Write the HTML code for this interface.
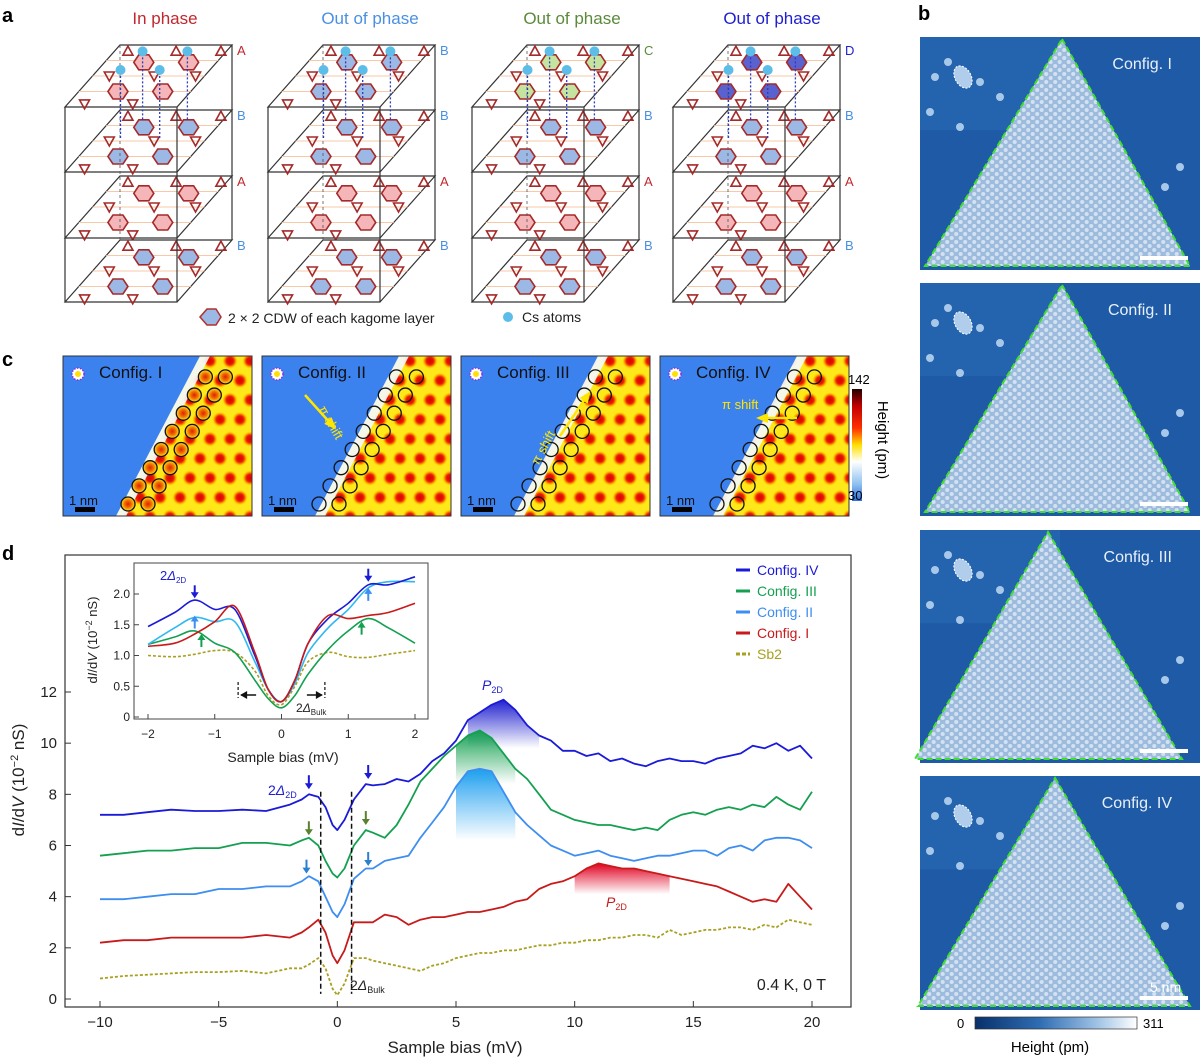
<!DOCTYPE html>
<html><head><meta charset="utf-8">
<style>
html,body{margin:0;padding:0;background:#fff;}
svg{display:block;font-family:"Liberation Sans",Arial,sans-serif;}
</style></head>
<body>
<svg id="fig" width="1200" height="1057" viewBox="0 0 1200 1057" xmlns="http://www.w3.org/2000/svg">
<defs>
  <radialGradient id="rdot"><stop offset="0" stop-color="#e00000"/><stop offset="0.45" stop-color="#e81a00"/><stop offset="0.75" stop-color="#ffb000"/><stop offset="1" stop-color="#ffe600" stop-opacity="0"/></radialGradient>
  <radialGradient id="rdot2"><stop offset="0" stop-color="#e02000"/><stop offset="0.5" stop-color="#f07000"/><stop offset="1" stop-color="#ffe020"/></radialGradient>
  <pattern id="cdw" width="20" height="39" patternUnits="userSpaceOnUse">
    <rect width="20" height="39" fill="#ffe81a"/>
    <circle cx="10" cy="10" r="8" fill="url(#rdot)"/>
    <circle cx="0" cy="29.5" r="8" fill="url(#rdot)"/>
    <circle cx="20" cy="29.5" r="8" fill="url(#rdot)"/>
  </pattern>
  <pattern id="stm" width="9" height="8" patternUnits="userSpaceOnUse">
    <rect width="9" height="8" fill="#9dbbdd"/>
    <circle cx="2.2" cy="2" r="2" fill="#d3e2f2"/>
    <circle cx="6.7" cy="6" r="2" fill="#d3e2f2"/>
  </pattern>
  <linearGradient id="bcb" x1="0" x2="1"><stop offset="0" stop-color="#08306b"/><stop offset="0.4" stop-color="#2f6db3"/><stop offset="0.75" stop-color="#9ec2e4"/><stop offset="1" stop-color="#ffffff"/></linearGradient>
  <linearGradient id="ccb" x1="0" y1="0" x2="0" y2="1"><stop offset="0" stop-color="#200000"/><stop offset="0.15" stop-color="#c00000"/><stop offset="0.35" stop-color="#ff3000"/><stop offset="0.5" stop-color="#ffe000"/><stop offset="0.65" stop-color="#ffffff"/><stop offset="0.85" stop-color="#8fc0f0"/><stop offset="1" stop-color="#2a6fe0"/></linearGradient>
  <linearGradient id="gBlue" x1="0" y1="0" x2="0" y2="1"><stop offset="0" stop-color="#2020d0"/><stop offset="1" stop-color="#2020d0" stop-opacity="0"/></linearGradient>
  <linearGradient id="gGreen" x1="0" y1="0" x2="0" y2="1"><stop offset="0" stop-color="#14a050"/><stop offset="1" stop-color="#14a050" stop-opacity="0"/></linearGradient>
  <linearGradient id="gLight" x1="0" y1="0" x2="0" y2="1"><stop offset="0" stop-color="#20a0f0"/><stop offset="1" stop-color="#20a0f0" stop-opacity="0"/></linearGradient>
  <linearGradient id="gRed" x1="0" y1="0" x2="0" y2="1"><stop offset="0" stop-color="#e00020"/><stop offset="1" stop-color="#e00020" stop-opacity="0"/></linearGradient>
</defs>

<text x="2" y="22" font-size="20" font-weight="bold">a</text>
<text x="918" y="20" font-size="20" font-weight="bold">b</text>
<text x="2" y="366" font-size="20" font-weight="bold">c</text>
<text x="2" y="560" font-size="20" font-weight="bold">d</text>

<g font-size="17" text-anchor="middle">
<text x="165" y="24" fill="#c0282d">In phase</text>
<text x="370" y="24" fill="#4a90e2">Out of phase</text>
<text x="572" y="24" fill="#5a8a3a">Out of phase</text>
<text x="772" y="24" fill="#2020d0">Out of phase</text>
</g>
<g id="cubes"></g>
<g font-size="14">
<polygon points="200,317 207,309 216,309 221,317 216,325 207,325" fill="#9cb8e4" stroke="#b03030" stroke-width="1.5"/>
<text x="228" y="323" fill="#222">2 × 2 CDW of each kagome layer</text>
<circle cx="508" cy="317" r="5" fill="#5bbde8"/>
<text x="522" y="322" fill="#222">Cs atoms</text>
</g>

<g id="panelc"></g>
<g>
<rect x="852" y="389" width="10" height="112" fill="url(#ccb)"/>
<text x="848" y="384" font-size="13">142</text>
<text x="848" y="500" font-size="13">30</text>
<text x="878" y="440" font-size="15" text-anchor="middle" transform="rotate(90 878 440)">Height (pm)</text>
</g>

<g id="panelb"></g>
<g>
<text x="957" y="1028" font-size="13">0</text>
<rect x="975" y="1017" width="162" height="12" fill="url(#bcb)" stroke="#333" stroke-width="0.7"/>
<text x="1143" y="1028" font-size="13">311</text>
<text x="1050" y="1052" font-size="15" text-anchor="middle">Height (pm)</text>
</g>

<g id="chartd"></g>
</svg>

<script>
// ===== Panel d data =====
const biasMain = [-10,-9,-8,-7,-6,-5,-4,-3,-2,-1.5,-1.2,-0.8,-0.5,-0.2,0,0.3,0.7,1.2,1.5,2,2.5,3,3.5,4,4.5,5,5.5,6,6.5,7,7.5,8,8.5,9,9.5,10,10.5,11,11.5,12,12.5,13,13.5,14,14.5,15,15.5,16,16.5,17,17.5,18,18.5,19,19.5,20];
const configIV  = [7.2,7.2,7.3,7.4,7.35,7.35,7.4,7.35,7.6,7.8,8.0,7.9,7.5,6.8,6.6,7.0,7.8,8.4,8.35,8.4,8.6,8.5,8.8,9.3,9.6,10.1,10.9,11.2,11.5,11.7,11.3,10.7,10.3,10.1,9.7,9.7,9.5,9.6,9.3,9.4,9.2,9.1,9.3,9.4,9.3,9.3,9.2,9.4,9.5,9.6,9.9,9.8,10.0,9.7,9.9,9.4];
const configIII = [5.6,5.7,5.8,5.8,5.9,5.9,6.1,6.1,6.0,6.2,6.3,6.0,5.4,4.9,4.75,5.1,6.0,6.6,6.5,6.3,6.8,7.6,8.5,9.0,9.5,9.9,10.3,10.5,10.2,9.6,9.0,8.6,8.0,7.4,7.2,7.0,6.9,6.8,6.8,6.7,6.6,6.7,6.6,7.0,7.2,7.3,7.2,7.4,7.5,7.4,7.6,7.5,7.9,7.6,7.4,8.1];
const configII  = [3.9,3.9,4.0,4.1,4.1,4.3,4.3,4.4,4.4,4.6,4.8,4.6,4.0,3.4,3.2,3.7,4.7,5.1,5.1,5.4,5.5,5.6,6.3,6.9,7.5,8.3,8.9,9.0,8.9,8.1,7.3,6.8,6.4,6.0,5.8,5.6,5.7,5.8,5.6,5.5,5.4,5.5,5.6,5.6,5.7,5.8,5.8,5.6,5.9,6.0,5.8,6.2,6.3,6.3,6.2,5.9];
const configI   = [2.2,2.3,2.3,2.4,2.4,2.4,2.4,2.5,2.4,2.6,2.8,3.1,2.6,1.7,1.4,1.9,3.0,3.0,3.0,3.3,3.2,2.9,3.1,3.2,3.2,3.3,3.4,3.4,3.5,3.6,3.8,3.9,4.3,4.5,4.6,4.8,5.1,5.3,5.2,5.1,5.1,5.0,4.9,4.8,4.7,4.6,4.5,4.4,4.2,4.0,3.8,3.9,3.8,4.5,4.0,3.5];
const sb2       = [0.8,0.9,0.95,1.0,1.05,1.05,1.1,1.0,1.2,1.2,1.35,1.6,1.2,0.4,0.15,0.6,1.6,1.6,1.5,1.4,1.3,1.2,1.1,1.3,1.4,1.6,1.7,1.8,1.8,1.9,1.9,2.0,2.1,2.1,2.2,2.2,2.3,2.3,2.4,2.4,2.5,2.5,2.4,2.7,2.5,2.6,2.7,2.7,2.8,2.8,2.7,2.9,2.8,3.1,3.0,2.9];
const xTicksMain = [-10,-5,0,5,10,15,20];
const yTicksMain = [0,2,4,6,8,10,12];
const biasInset = [-2,-1.6,-1.3,-1,-0.7,-0.4,-0.2,0,0.2,0.4,0.7,1,1.3,1.6,2];
const insetIV  = [1.47,1.7,1.9,1.75,1.75,1.0,0.45,0.25,0.6,1.2,1.6,1.85,2.15,2.15,2.28];
const insetII  = [1.18,1.45,1.62,1.55,1.55,0.9,0.45,0.25,0.55,1.05,1.45,1.75,2.1,2.2,2.2];
const insetIII = [1.18,1.3,1.4,1.2,1.05,0.6,0.3,0.15,0.35,0.7,1.1,1.4,1.6,1.45,1.2];
const insetI   = [1.15,1.2,1.35,1.55,1.8,1.05,0.45,0.25,0.6,1.2,1.65,1.6,1.65,1.7,1.85];
const insetSb2 = [1.0,0.98,1.02,1.08,1.05,0.75,0.35,0.2,0.5,0.9,1.05,0.98,0.97,1.02,1.08];
const xTicksInset = [-2,-1,0,1,2];
const yTicksInset = [0,0.5,1.0,1.5,2.0];
const yTickLabelsInset = ["0","0.5","1.0","1.5","2.0"];
const legendNames = ["Config. IV","Config. III","Config. II","Config. I","Sb2"];

const NS="http://www.w3.org/2000/svg";
function mk(tag,attrs,parent){const e=document.createElementNS(NS,tag);for(const k in attrs)e.setAttribute(k,attrs[k]);if(parent)parent.appendChild(e);return e;}

// ===== Panel a =====
(function(){
  const g=document.getElementById('cubes');
  const topFill=["#f4b6b8","#9cb8e4","#c5e4a0","#5a62d0"];
  const letters=[["A","B","A","B"],["B","B","A","B"],["C","B","A","B"],["D","B","A","B"]];
  const letterCol={A:"#c0282d",B:"#4a90e2",C:"#5a8a3a",D:"#2020d0"};
  const offs=[0,203,407,608];
  const layersY=[45,110,176,240];
  offs.forEach((o,ci)=>{
    const cg=mk('g',{},g);
    
    
    const x0=65+o;
    layersY.forEach((y,li)=>{
      const h=62;
      mk('polygon',{points:`${x0+55},${y} ${x0+167},${y} ${x0+112},${y+h} ${x0},${y+h}`,fill:"#fff",stroke:"#333","stroke-width":1.2},cg);
      for(let k=1;k<4;k++){const yy=y+h*k/4;const sh=55*(1-k/4);mk('line',{x1:x0+sh,y1:yy,x2:x0+sh+112,y2:yy,stroke:"#f7c9a8","stroke-width":1},cg);}
      const fill = li===0?topFill[ci]:(li%2===0?"#f4b6b8":"#9cb8e4");
      const hx=[[0.35,0.28],[0.75,0.28],[0.35,0.75],[0.75,0.75]];
      hx.forEach(([u,v])=>{
        const cx=x0+55*(1-v)+112*u, cy=y+h*v;
        const r=10;
        mk('polygon',{points:`${cx-r},${cy} ${cx-r/2},${cy-r*0.75} ${cx+r/2},${cy-r*0.75} ${cx+r},${cy} ${cx+r/2},${cy+r*0.75} ${cx-r/2},${cy+r*0.75}`,fill:fill,stroke:"#a52a2a","stroke-width":1.6},cg);
      });
      const tr=[[0.12,0.1,1],[0.55,0.1,1],[0.95,0.1,1],[0.15,0.5,-1],[0.55,0.5,-1],[0.92,0.5,-1],[0.15,0.95,-1],[0.58,0.95,-1]];
      tr.forEach(([u,v,d])=>{
        const cx=x0+55*(1-v)+112*u, cy=y+h*v;
        mk('polygon',{points:`${cx-5},${cy+4*d} ${cx+5},${cy+4*d} ${cx},${cy-5*d}`,fill:"none",stroke:"#a52a2a","stroke-width":1.6},cg);
      });
      const L=letters[ci][li];
      const t=mk('text',{x:x0+172,y:y+10,"font-size":13,fill:letterCol[L]},cg);t.textContent=L;
    });
    mk('line',{x1:x0,y1:107,x2:x0,y2:302,stroke:"#333","stroke-width":1.2},cg);
    mk('line',{x1:x0+112,y1:107,x2:x0+112,y2:302,stroke:"#333","stroke-width":1.2},cg);
    mk('line',{x1:x0+167,y1:45,x2:x0+167,y2:240,stroke:"#333","stroke-width":1.2},cg);
    mk('line',{x1:x0+55,y1:45,x2:x0+55,y2:240,stroke:"#555","stroke-width":0.8,"stroke-dasharray":"3,3"},cg);
    const cs=[[0.25,0.5],[0.6,0.5],[0.3,0.2],[0.7,0.2]];
    cs.forEach(([u,v])=>{
      const cx=x0+55*(1-v)+112*u, cy=45+62*v;
      mk('line',{x1:cx,y1:cy,x2:cx,y2:cy+62,stroke:"#2a3cc0","stroke-width":1.3,"stroke-dasharray":"2,2"},cg);
      mk('circle',{cx:cx,cy:cy-6,r:5,fill:"#5bbde8"},cg);
    });
  });
})();

// ===== Panel c =====
(function(){
  const g=document.getElementById('panelc');
  const xs=[63,262,461,660], names=["Config. I","Config. II","Config. III","Config. IV"];
  xs.forEach((x0,i)=>{
    const sg=mk('g',{},g);
    
    
    const w=189,y0=356,h=160;
    mk('rect',{x:x0,y:y0,width:w,height:h,fill:"url(#cdw)"},sg);
    const bx=x0+53, tx=x0+137;
    mk('polygon',{points:`${x0},${y0} ${tx+10},${y0} ${bx+10},${y0+h} ${x0},${y0+h}`,fill:"#f4f8ff",opacity:0.9},sg);
    mk('polygon',{points:`${x0},${y0} ${tx},${y0} ${bx},${y0+h} ${x0},${y0+h}`,fill:"#3b82ee"},sg);
    for(let k=0;k<8;k++){
      const f=k/7.6;
      const cx=bx+12+(tx-bx)*f, cy=y0+h-12-(h-22)*f;
      const fillc = i===0?"url(#rdot2)":"none";
      mk('circle',{cx:cx-(i>0?8:0),cy:cy,r:7,fill:fillc,stroke:"#111","stroke-width":1.3},sg);
      mk('circle',{cx:cx+20-(i>0?8:0),cy:cy,r:7,fill:fillc,stroke:"#111","stroke-width":1.3},sg);
    }
    mk('circle',{cx:x0+15,cy:y0+18,r:6,fill:"#fff",stroke:"#8a2be2","stroke-width":1.5,"stroke-dasharray":"1.5,1.5"},sg);
    mk('circle',{cx:x0+15,cy:y0+18,r:3,fill:"#ffe000"},sg);
    mk('rect',{x:x0,y:y0,width:w,height:h,fill:"none",stroke:"#333","stroke-width":1},sg);
    const t=mk('text',{x:x0+36,y:y0+22,"font-size":17,fill:"#111"},sg);t.textContent=names[i];
    const s=mk('text',{x:x0+6,y:y0+149,"font-size":13,fill:"#111"},sg);s.textContent="1 nm";
    mk('rect',{x:x0+12,y:y0+151,width:20,height:5,fill:"#000"},sg);
  });
  const ar=[[305,395,332,425],[560,436,587,396],[797,418,762,418]];
  ar.forEach(([x1,y1,x2,y2])=>{
    mk('line',{x1:x1,y1:y1,x2:x2,y2:y2,stroke:"#ffe600","stroke-width":2.5},g);
    const ang=Math.atan2(y2-y1,x2-x1);
    mk('polygon',{points:`${x2+6*Math.cos(ang)},${y2+6*Math.sin(ang)} ${x2-6*Math.cos(ang)-5*Math.sin(ang)},${y2-6*Math.sin(ang)+5*Math.cos(ang)} ${x2-6*Math.cos(ang)+5*Math.sin(ang)},${y2-6*Math.sin(ang)-5*Math.cos(ang)}`,fill:"#ffe600"},g);
  });
  let t=mk('text',{x:300,y:410,"font-size":13,fill:"#ffe600",transform:"rotate(60 310 425)"},g);t.textContent="π shift";
  t=mk('text',{x:520,y:465,"font-size":13,fill:"#ffe600",transform:"rotate(-62 530 450)"},g);t.textContent="π shift";
  t=mk('text',{x:722,y:409,"font-size":13,fill:"#ffe600"},g);t.textContent="π shift";
})();

// ===== Panel b =====
(function(){
  const g=document.getElementById('panelb');
  const imgs=[[37,270,1062,"Config. I",925,1190],[283,516,1062,"Config. II",925,1190],[530,763,1048,"Config. III",915,1182],[776,1010,1055,"Config. IV",918,1190]];
  imgs.forEach(([y0,y1,ax,name,bl,br],i)=>{
    const sg=mk('g',{},g);
    
    
    mk('rect',{x:920,y:y0,width:280,height:y1-y0,fill:"#1e5aa5"},sg);
    mk('rect',{x:920,y:y0,width:140,height:(y1-y0)*0.4,fill:"#2a6cb8",opacity:0.5},sg);
    const dots=[[935,y0+40],[948,y0+25],[980,y0+45],[1000,y0+60],[930,y0+75],[960,y0+90],[1165,y0+150],[1180,y0+130]];
    dots.forEach(([x,y])=>mk('circle',{cx:x,cy:y,r:4,fill:"#a8c8ea"},sg));
    mk('ellipse',{cx:963,cy:y0+40,rx:8,ry:12,fill:"#b0cdeb",stroke:"#fff","stroke-width":1,"stroke-dasharray":"2,1.5",transform:`rotate(-30 963 ${y0+40})`},sg);
    mk('polygon',{points:`${ax},${y0+2} ${br},${y1-4} ${bl},${y1-4}`,fill:"url(#stm)",stroke:"#3fe02a","stroke-width":2,"stroke-dasharray":"6,3"},sg);
    const t=mk('text',{x:1172,y:y0+32,"font-size":16,fill:"#e8f0fa","text-anchor":"end"},sg);t.textContent=name;
    mk('rect',{x:1140,y:y1-14,width:48,height:4,fill:"#fff"},sg);
  });
  const t=mk('text',{x:1150,y:992,"font-size":14,fill:"#fff"},g);t.textContent="5 nm";
})();

// ===== Panel d chart =====
(function(){
  const g=document.getElementById('chartd');
  const X0=100,X1=812,Y0=999,Y12=692;
  const sx=v=>X0+(v+10)*(X1-X0)/30;
  const sy=v=>Y0-v*(Y0-Y12)/12;
  const frame=mk('rect',{x:65,y:555,width:786,height:452,fill:"none",stroke:"#333","stroke-width":1.2},g);
  
  
  xTicksMain.forEach(v=>{
    mk('line',{x1:sx(v),y1:1007,x2:sx(v),y2:1001,stroke:"#333"},g);
    const t=mk('text',{x:sx(v),y:1027,"font-size":15,"text-anchor":"middle",fill:"#222"},g);
    
    
    t.textContent=(v<0?"−"+(-v):v);
  });
  yTicksMain.forEach(v=>{
    mk('line',{x1:65,y1:sy(v),x2:71,y2:sy(v),stroke:"#333"},g);
    const t=mk('text',{x:57,y:sy(v)+5,"font-size":15,"text-anchor":"end",fill:"#222"},g);
    
    
    t.textContent=v;
  });
  let t=mk('text',{x:455,y:1053,"font-size":17,"text-anchor":"middle",fill:"#222"},g);
  
  
  t.textContent="Sample bias (mV)";
  t=mk('text',{x:24,y:780,"font-size":17,"text-anchor":"middle",fill:"#222",transform:"rotate(-90 24 780)"},g);
  
  
  t.innerHTML='d<tspan font-style="italic">I</tspan>/d<tspan font-style="italic">V</tspan> (10<tspan dy="-6" font-size="11">−2</tspan><tspan dy="6"> nS)</tspan>';

  function fillUnder(vals,lo,hi,base,grad,name){
    let pts=[];
    biasMain.forEach((b,i)=>{if(b>=lo&&b<=hi)pts.push(sx(b)+","+sy(vals[i]));});
    pts.push(sx(hi)+","+sy(base));pts.push(sx(lo)+","+sy(base));
    const p=mk('polygon',{points:pts.join(" "),fill:`url(#${grad})`},g);
    
    
  }
  fillUnder(configIV,5.5,8.5,9.8,"gBlue","peak-fill-iv");
  fillUnder(configIII,5,7.5,8.4,"gGreen","peak-fill-iii");
  fillUnder(configII,5,7.5,6.2,"gLight","peak-fill-ii");
  fillUnder(configI,10,14,4.1,"gRed","peak-fill-i");

  const series=[[configIV,"#1a1ad8",""],[configIII,"#14a050",""],[configII,"#3d8ef0",""],[configI,"#c81a1a",""],[sb2,"#a8a020","3,2"]];
  series.forEach(([vals,col,dash],si)=>{
    const d=vals.map((v,i)=>(i?"L":"M")+sx(biasMain[i]).toFixed(1)+","+sy(v).toFixed(1)).join(" ");
    const p=mk('path',{d:d,fill:"none",stroke:col,"stroke-width":1.8,"stroke-dasharray":dash,"stroke-linejoin":"round"},g);
    
    
  });
  [-0.7,0.6].forEach(v=>{
    const l=mk('line',{x1:sx(v),y1:sy(8.1),x2:sx(v),y2:sy(0.2),stroke:"#111","stroke-width":1.5,"stroke-dasharray":"5,3"},g);
    
    
  });
  function arrow(x,y,col,up){
    const px=sx(x),py=sy(y);
    const d=up?-1:1;
    mk('line',{x1:px,y1:py-14*d,x2:px,y2:py-4*d,stroke:col,"stroke-width":2},g);
    mk('polygon',{points:`${px-4},${py-6*d} ${px+4},${py-6*d} ${px},${py}`,fill:col},g);
  }
  arrow(-1.2,8.2,"#1a1ad8");arrow(1.3,8.6,"#1a1ad8");
  arrow(-1.2,6.4,"#5a8030");arrow(1.2,6.8,"#5a8030");
  arrow(-1.3,4.9,"#2a80d0");arrow(1.3,5.2,"#2a80d0");
  t=mk('text',{x:268,y:795,"font-size":14,fill:"#2020d0"},g);t.innerHTML='2<tspan font-style="italic">Δ</tspan><tspan font-size="9" dy="3">2D</tspan>';
  t=mk('text',{x:350,y:990,"font-size":14,fill:"#222"},g);t.innerHTML='2<tspan font-style="italic">Δ</tspan><tspan font-size="9" dy="3">Bulk</tspan>';
  t=mk('text',{x:482,y:690,"font-size":14,fill:"#2020d0","font-style":"italic"},g);t.innerHTML='P<tspan font-size="9" dy="3" font-style="normal">2D</tspan>';
  t=mk('text',{x:606,y:907,"font-size":14,fill:"#c81a1a","font-style":"italic"},g);t.innerHTML='P<tspan font-size="9" dy="3" font-style="normal">2D</tspan>';
  t=mk('text',{x:826,y:990,"font-size":16,fill:"#222","text-anchor":"end"},g);t.textContent="0.4 K, 0 T";

  const legCols=["#1a1ad8","#14a050","#3d8ef0","#c81a1a","#a8a020"];
  legendNames.forEach((n,i)=>{
    const y=570+i*21;
    const lg=mk('g',{},g);
    
    
    mk('line',{x1:736,y1:y,x2:750,y2:y,stroke:legCols[i],"stroke-width":3,"stroke-dasharray":i===4?"4,2":""},lg);
    const tt=mk('text',{x:757,y:y+5,"font-size":14,fill:legCols[i]},lg);tt.textContent=n;
  });

  const IX0=148,IX1=415,IY0=717,IY2=594;
  const ix=v=>IX0+(v+2)*(IX1-IX0)/4;
  const iy=v=>IY0-v*(IY0-IY2)/2;
  const ig=mk('g',{},g);
  
  
  mk('rect',{x:134,y:563,width:294,height:156,fill:"#fff",stroke:"#444","stroke-width":1},ig);
  xTicksInset.forEach(v=>{
    mk('line',{x1:ix(v),y1:719,x2:ix(v),y2:714,stroke:"#444"},ig);
    const tt=mk('text',{x:ix(v),y:738,"font-size":12,"text-anchor":"middle",fill:"#222"},ig);
    tt.textContent=(v<0?"−"+(-v):v);
  });
  yTicksInset.forEach((v,i)=>{
    mk('line',{x1:134,y1:iy(v),x2:139,y2:iy(v),stroke:"#444"},ig);
    const tt=mk('text',{x:130,y:iy(v)+4,"font-size":12,"text-anchor":"end",fill:"#222"},ig);
    tt.textContent=yTickLabelsInset[i];
  });
  let tt=mk('text',{x:283,y:762,"font-size":14,"text-anchor":"middle",fill:"#222"},ig);tt.textContent="Sample bias (mV)";
  tt=mk('text',{x:97,y:640,"font-size":13,"text-anchor":"middle",fill:"#222",transform:"rotate(-90 97 640)"},ig);
  tt.innerHTML='d<tspan font-style="italic">I</tspan>/d<tspan font-style="italic">V</tspan> (10<tspan dy="-5" font-size="9">−2</tspan><tspan dy="5"> nS)</tspan>';
  function smooth(xs,ys){
    const P=xs.map((x,i)=>[ix(x),iy(ys[i])]);
    let d="M"+P[0][0].toFixed(1)+","+P[0][1].toFixed(1);
    for(let i=0;i<P.length-1;i++){
      const p0=P[i-1]||P[i],p1=P[i],p2=P[i+1],p3=P[i+2]||P[i+1];
      const c1=[p1[0]+(p2[0]-p0[0])/6,p1[1]+(p2[1]-p0[1])/6];
      const c2=[p2[0]-(p3[0]-p1[0])/6,p2[1]-(p3[1]-p1[1])/6];
      d+=` C${c1[0].toFixed(1)},${c1[1].toFixed(1)} ${c2[0].toFixed(1)},${c2[1].toFixed(1)} ${p2[0].toFixed(1)},${p2[1].toFixed(1)}`;
    }
    return d;
  }
  const iser=[[insetSb2,"#a8a020","3,2"],[insetIII,"#14a050",""],[insetII,"#30b8f0",""],[insetIV,"#1a1ad8",""],[insetI,"#c81a1a",""]];
  const inames=["sb2","config-iii","config-ii","config-iv","config-i"];
  iser.forEach(([vals,col,dash],i)=>{
    const p=mk('path',{d:smooth(biasInset,vals),fill:"none",stroke:col,"stroke-width":1.6,"stroke-dasharray":dash},ig);
    
    
  });
  function iarrow(x,y,col,up){
    const px=ix(x),py=iy(y),d=up?-1:1;
    mk('line',{x1:px,y1:py-13*d,x2:px,y2:py-4*d,stroke:col,"stroke-width":2},ig);
    mk('polygon',{points:`${px-4},${py-6*d} ${px+4},${py-6*d} ${px},${py}`,fill:col},ig);
  }
  iarrow(-1.3,1.93,"#1a1ad8");iarrow(1.3,2.2,"#1a1ad8");
  iarrow(-1.3,1.65,"#3d8ef0",true);iarrow(1.3,2.1,"#3d8ef0",true);
  iarrow(-1.2,1.35,"#14a050",true);iarrow(1.2,1.55,"#14a050",true);
  tt=mk('text',{x:160,y:580,"font-size":13,fill:"#2020d0"},ig);tt.innerHTML='2<tspan font-style="italic">Δ</tspan><tspan font-size="8" dy="3">2D</tspan>';
  tt=mk('text',{x:296,y:712,"font-size":12,fill:"#222"},ig);tt.innerHTML='2<tspan font-style="italic">Δ</tspan><tspan font-size="8" dy="3">Bulk</tspan>';
  [-0.65,0.65].forEach(v=>mk('line',{x1:ix(v),y1:682,x2:ix(v),y2:698,stroke:"#111","stroke-width":1.2,"stroke-dasharray":"3,2"},ig));
  mk('line',{x1:ix(-0.65)+3,y1:695,x2:ix(-0.65)+18,y2:695,stroke:"#111","stroke-width":1.5},ig);
  mk('polygon',{points:`${ix(-0.65)+2},695 ${ix(-0.65)+9},691 ${ix(-0.65)+9},699`,fill:"#111"},ig);
  mk('line',{x1:ix(0.65)-18,y1:695,x2:ix(0.65)-3,y2:695,stroke:"#111","stroke-width":1.5},ig);
  mk('polygon',{points:`${ix(0.65)-2},695 ${ix(0.65)-9},691 ${ix(0.65)-9},699`,fill:"#111"},ig);
})();
</script>
</body></html>
